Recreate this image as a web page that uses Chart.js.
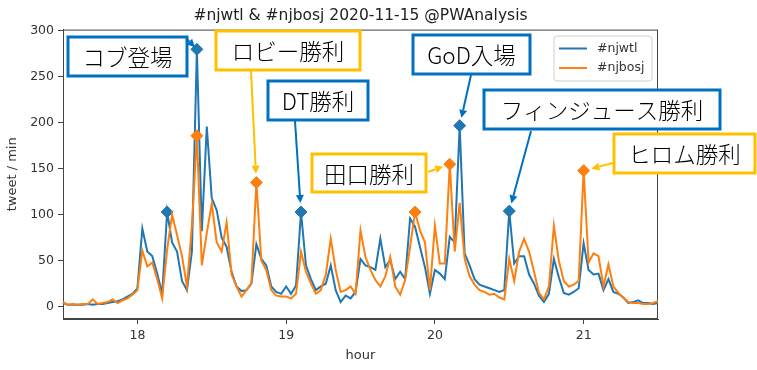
<!DOCTYPE html>
<html>
<head>
<meta charset="utf-8">
<script src="https://cdn.jsdelivr.net/npm/chart.js@4.4.0/dist/chart.umd.min.js"></script>
<style>
  html, body { margin: 0; padding: 0; background: #fff; }
</style>
</head>
<body>
<canvas id="tweetChart" width="757" height="370"></canvas>
<script>
// minutes (2 min steps) from 17:30 to 21:30
const times = [
  '17:30','17:32','17:34','17:36','17:38','17:40','17:42','17:44','17:46','17:48','17:50','17:52','17:54','17:56','17:58',
  '18:00','18:02','18:04','18:06','18:08','18:10','18:12','18:14','18:16','18:18','18:20','18:22','18:24','18:26','18:28',
  '18:30','18:32','18:34','18:36','18:38','18:40','18:42','18:44','18:46','18:48','18:50','18:52','18:54','18:56','18:58',
  '19:00','19:02','19:04','19:06','19:08','19:10','19:12','19:14','19:16','19:18','19:20','19:22','19:24','19:26','19:28',
  '19:30','19:32','19:34','19:36','19:38','19:40','19:42','19:44','19:46','19:48','19:50','19:52','19:54','19:56','19:58',
  '20:00','20:02','20:04','20:06','20:08','20:10','20:12','20:14','20:16','20:18','20:20','20:22','20:24','20:26','20:28',
  '20:30','20:32','20:34','20:36','20:38','20:40','20:42','20:44','20:46','20:48','20:50','20:52','20:54','20:56','20:58',
  '21:00','21:02','21:04','21:06','21:08','21:10','21:12','21:14','21:16','21:18','21:20','21:22','21:24','21:26','21:28',
  '21:30'
];

const njwtl = [
  4,2,2,2,2,3,2,3,3,4,5,6,8,11,14,
  20,85,60,55,36,14,
  103,70,60,28,18,60,280,
  82,196,118,105,75,65,
  38,22,17,18,25,68,52,45,22,16,14,22,14,23,
  103,45,30,18,22,25,45,18,5,12,9,16,
  52,45,43,40,74,43,51,30,38,30,
  96,87,65,43,14,40,36,30,76,70,
  197,58,45,30,24,22,20,18,16,18,
  104,47,55,55,35,25,12,5,14,52,
  32,15,13,16,20,69,40,35,36,18,
  30,16,14,10,4,5,7,4,4,3,4
];

const njbosj = [
  5,2,3,2,3,3,8,3,4,5,8,4,7,9,13,
  18,61,44,48,30,9,
  62,100,78,55,22,88,186,
  45,80,112,70,60,92,
  35,22,11,18,26,135,50,40,18,12,11,11,9,14,
  60,38,25,14,18,35,74,40,16,18,22,14,
  83,54,40,29,22,33,54,22,13,29,
  65,103,83,70,18,88,47,47,155,60,
  113,52,33,24,18,16,13,14,10,8,
  52,28,60,74,60,38,15,8,22,88,
  50,28,22,24,28,148,48,58,55,22,
  46,22,15,10,5,4,4,3,3,4,6
];

// points that get a diamond marker
const njwtlMarks = [21, 27, 48, 80, 90];
const njbosjMarks = [27, 39, 71, 78, 105];

const xTickTimes = ['18:00', '19:00', '20:00', '21:00'];
const xTickLabels = ['18', '19', '20', '21'];
const yTicks = [0, 50, 100, 150, 200, 250, 300];

// events: text, series (0 = #njwtl, 1 = #njbosj), index in times
const eventTexts = ['コブ登場', 'ロビー勝利', 'DT勝利', '田口勝利', 'GoD入場', 'フィンジュース勝利', 'ヒロム勝利'];
const eventSeries = [0, 1, 0, 1, 0, 0, 1];
const eventIndex = [27, 39, 48, 78, 80, 90, 105];

const BLUE = '#1f77b4';
const ORANGE = '#ff7f0e';
const BOX_BLUE = '#0070C0';
const BOX_YELLOW = '#FFC000';

// box placement (pixels) and the point the arrow leaves from
const boxLayout = [
  {x: 68, y: 37, w: 119, h: 39, color: BOX_BLUE, from: [186, 38], gap: 3},
  {x: 216, y: 31, w: 144, h: 39, color: BOX_YELLOW, from: [251, 71], gap: 9},
  {x: 268, y: 81, w: 100, h: 39, color: BOX_BLUE, from: [295, 121], gap: 9},
  {x: 312, y: 154, w: 114, h: 38, color: BOX_YELLOW, from: [428, 172], gap: 7},
  {x: 413, y: 35, w: 117, h: 39, color: BOX_BLUE, from: [471, 75], gap: 8},
  {x: 484, y: 90, w: 236, h: 39, color: BOX_BLUE, from: [531, 131], gap: 8},
  {x: 614, y: 134, w: 141, h: 39, color: BOX_YELLOW, from: [613, 163], gap: 8}
];

const framePlugin = {
  id: 'frame',
  beforeDatasetsDraw(chart) {
    const {ctx, chartArea} = chart;
    ctx.save();
    ctx.strokeStyle = '#444';
    ctx.lineWidth = 1;
    ctx.strokeRect(chartArea.left + 0.5, chartArea.top + 0.5,
      chartArea.right - chartArea.left - 1, chartArea.bottom - chartArea.top - 1);
    ctx.restore();
  }
};

const eventPlugin = {
  id: 'events',
  afterDatasetsDraw(chart) {
    const ctx = chart.ctx;
    const xs = chart.scales.x;
    const ys = chart.scales.y;
    eventTexts.forEach((text, k) => {
      const b = boxLayout[k];
      const values = eventSeries[k] === 0 ? njwtl : njbosj;
      const tx = xs.getPixelForValue(eventIndex[k]);
      const ty = ys.getPixelForValue(values[eventIndex[k]]);
      const [sx, sy] = b.from;
      const len = Math.hypot(tx - sx, ty - sy);
      const ux = (tx - sx) / len, uy = (ty - sy) / len;
      const ex = tx - ux * b.gap, ey = ty - uy * b.gap;
      const head = 8;

      ctx.save();
      ctx.strokeStyle = b.color;
      ctx.fillStyle = b.color;
      ctx.lineWidth = 2;
      ctx.beginPath();
      ctx.moveTo(sx, sy);
      ctx.lineTo(ex - ux * head, ey - uy * head);
      ctx.stroke();
      ctx.beginPath();
      ctx.moveTo(ex, ey);
      ctx.lineTo(ex - ux * head - uy * 4, ey - uy * head + ux * 4);
      ctx.lineTo(ex - ux * head + uy * 4, ey - uy * head - ux * 4);
      ctx.closePath();
      ctx.fill();

      ctx.fillStyle = '#fff';
      ctx.fillRect(b.x, b.y, b.w, b.h);
      ctx.lineWidth = 3;
      ctx.strokeRect(b.x, b.y, b.w, b.h);
      ctx.fillStyle = '#000';
      ctx.font = '300 22.5px "Noto Sans CJK JP"';
      ctx.textAlign = 'center';
      ctx.textBaseline = 'middle';
      ctx.fillText(text, b.x + b.w / 2, b.y + b.h / 2 + 1);
      ctx.restore();
    });
  }
};

const legendPlugin = {
  id: 'insideLegend',
  afterDraw(chart) {
    const ctx = chart.ctx;
    const lx = 554, ly = 36, lw = 98, lh = 45, r = 3;
    ctx.save();
    ctx.beginPath();
    ctx.moveTo(lx + r, ly);
    ctx.arcTo(lx + lw, ly, lx + lw, ly + lh, r);
    ctx.arcTo(lx + lw, ly + lh, lx, ly + lh, r);
    ctx.arcTo(lx, ly + lh, lx, ly, r);
    ctx.arcTo(lx, ly, lx + lw, ly, r);
    ctx.closePath();
    ctx.fillStyle = 'rgba(255,255,255,0.8)';
    ctx.fill();
    ctx.strokeStyle = '#d0d0d0';
    ctx.lineWidth = 1;
    ctx.stroke();

    chart.data.datasets.forEach((ds, i) => {
      const y = 48.5 + i * 19.5;
      ctx.strokeStyle = ds.borderColor;
      ctx.lineWidth = 2;
      ctx.beginPath();
      ctx.moveTo(559, y);
      ctx.lineTo(587, y);
      ctx.stroke();
      ctx.fillStyle = '#333';
      ctx.font = '12.5px "DejaVu Sans"';
      ctx.textAlign = 'left';
      ctx.textBaseline = 'middle';
      ctx.fillText(ds.label, 597, y);
    });
    ctx.restore();
  }
};

const markRadius = (marks) => (c) => marks.includes(c.dataIndex) ? 6 : 0;

new Chart(document.getElementById('tweetChart'), {
  type: 'line',
  data: {
    labels: times,
    datasets: [
      {
        label: '#njwtl',
        data: njwtl,
        borderColor: BLUE,
        backgroundColor: BLUE,
        borderWidth: 2,
        tension: 0,
        pointStyle: 'rectRot',
        pointRadius: markRadius(njwtlMarks),
        pointBackgroundColor: BLUE,
        pointBorderColor: BLUE,
        pointBorderWidth: 1,
        order: 1
      },
      {
        label: '#njbosj',
        data: njbosj,
        borderColor: ORANGE,
        backgroundColor: ORANGE,
        borderWidth: 2,
        tension: 0,
        pointStyle: 'rectRot',
        pointRadius: markRadius(njbosjMarks),
        pointBackgroundColor: ORANGE,
        pointBorderColor: ORANGE,
        pointBorderWidth: 1,
        order: 0
      }
    ]
  },
  options: {
    responsive: false,
    devicePixelRatio: 1,
    animation: false,
    events: [],
    layout: { padding: { left: 0, right: 99, top: 0, bottom: 0 } },
    plugins: {
      legend: { display: false },
      tooltip: { enabled: false },
      title: {
        display: true,
        fullSize: false,
        text: '#njwtl & #njbosj 2020-11-15 @PWAnalysis',
        color: '#222',
        font: { family: 'DejaVu Sans', size: 15.5, weight: 'normal' },
        padding: { top: 7, bottom: 4 }
      }
    },
    scales: {
      x: {
        type: 'category',
        offset: false,
        afterBuildTicks: (s) => { s.ticks = xTickTimes.map(t => ({ value: times.indexOf(t) })); },
        afterFit: (s) => { s.height = 51; },
        ticks: {
          autoSkip: false,
          maxRotation: 0,
          padding: 4,
          color: '#333',
          font: { family: 'DejaVu Sans', size: 12.5 },
          callback: (v) => xTickLabels[xTickTimes.indexOf(times[v])]
        },
        grid: { display: true, drawOnChartArea: false, drawTicks: true, tickLength: 5, color: '#444' },
        border: { display: true, color: '#444', width: 1 },
        title: {
          display: true,
          text: 'hour',
          color: '#333',
          font: { family: 'DejaVu Sans', size: 13 },
          padding: { top: 7, bottom: 7 }
        }
      },
      y: {
        min: -13.4,
        max: 301.5,
        afterBuildTicks: (s) => { s.ticks = yTicks.map(v => ({ value: v })); },
        afterFit: (s) => { s.width = 63; },
        ticks: {
          padding: 4,
          color: '#333',
          font: { family: 'DejaVu Sans', size: 12.5 },
          callback: (v) => String(v)
        },
        grid: { display: true, drawOnChartArea: false, drawTicks: true, tickLength: 5, color: '#444' },
        border: { display: true, color: '#444', width: 1 },
        title: {
          display: true,
          text: 'tweet / min',
          color: '#333',
          font: { family: 'DejaVu Sans', size: 13 },
          padding: { top: 5, bottom: 5 }
        }
      }
    }
  },
  plugins: [framePlugin, eventPlugin, legendPlugin]
});
</script>
</body>
</html>
